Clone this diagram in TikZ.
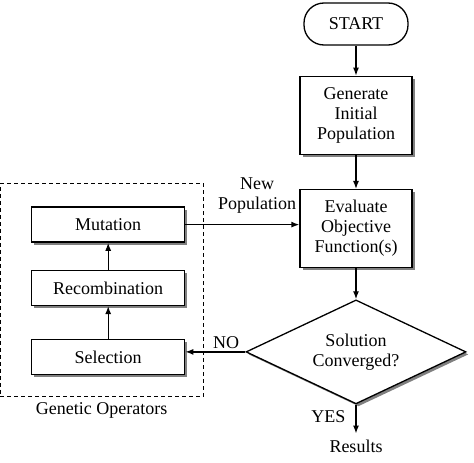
\documentclass[tikz,border=0pt]{standalone}
\usepackage{fontspec}
\setmainfont{Liberation Serif}
\usetikzlibrary{arrows.meta, positioning, shapes.geometric, shadows, fit}

\begin{document}
\begin{tikzpicture}[
        x=1pt, y=-1pt,
        node distance=30pt and 114pt,
        every node/.style={font=\fontsize{18}{20}\selectfont, inner sep=3pt},
        boxshadow/.style={drop shadow={shadow xshift=2.5pt, shadow yshift=-2.5pt, fill=black!50, opacity=1}},
        terminal/.style={rectangle, draw, line width=1.3pt, rounded corners=20pt, minimum width=104pt, minimum height=42pt, fill=white},
        process/.style={rectangle, draw, line width=1.3pt, minimum width=112pt, minimum height=78pt, align=center, fill=white, boxshadow},
        opbox/.style={rectangle, draw, line width=1.3pt, minimum width=153pt, minimum height=35pt, fill=white, boxshadow},
        decision/.style={diamond, aspect=2.1, draw, line width=1.3pt, minimum width=220pt, minimum height=104pt, inner sep=0pt, align=center, fill=white, boxshadow},
        opgroup/.style={rectangle, draw, line width=1.2pt, dash pattern=on 4pt off 3pt, inner sep=0pt},
        arrow/.style={-{Latex[length=8pt, width=6pt]}, line width=1.3pt}
    ]
        \useasboundingbox (0,0) rectangle (474,463);

        % Main column
        \node[terminal] (start) at (356,24) {START};
        \node[process, below=30pt of start] (generate) {Generate\\ Initial\\ Population};
        \node[process, below=34pt of generate] (evaluate) {Evaluate\\ Objective\\ Function(s)};
        \node[decision, below=31pt of evaluate] (converged) {Solution\\ Converged?};
        \node[below=29pt of converged, inner ysep=6pt] (results) {Results};

        % Genetic operators
        \node[opbox, left=114pt of evaluate, yshift=4pt] (mutation) {Mutation};
        \node[opbox, below=27pt of mutation] (recombination) {Recombination};
        \node[opbox, below=33pt of recombination] (selection) {Selection};
        \coordinate (opsw) at ([xshift=-31pt, yshift=-21pt]selection.south west);
        \coordinate (opne) at ([xshift=18pt, yshift=23pt]mutation.north east);
        \node[opgroup, fit=(opsw)(opne), label={[label distance=2pt]below:Genetic Operators}] (operators) {};

        % Arrows
        \draw[arrow] (start) -- (generate);
        \draw[arrow] (generate) -- (evaluate);
        \draw[arrow] (evaluate) -- (converged);
        \draw[arrow] (converged) -- node[left=7pt, pos=0.4] {YES} (results);
        \draw[arrow] (converged.west) -- node[above, pos=0.32] {NO} (converged.west -| selection.east);
        \draw[arrow] (selection) -- (recombination);
        \draw[arrow] (recombination) -- (mutation);
        \draw[arrow] (mutation.east) -- node[above=8pt, pos=0.63, align=center] {New\\ Population} (mutation.east -| evaluate.west);

    \end{tikzpicture}
\end{document}
